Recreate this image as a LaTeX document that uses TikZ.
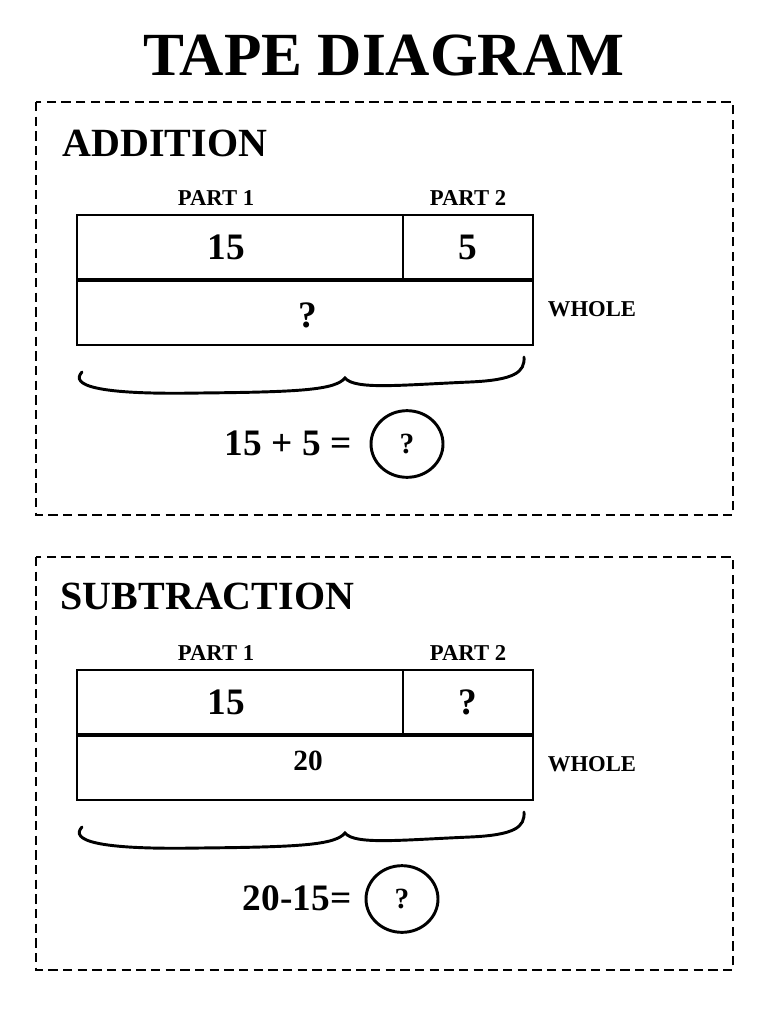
\documentclass[tikz,border=0pt]{standalone}
\usepackage{fontspec}
\setmainfont{Liberation Serif}
\usetikzlibrary{shapes.geometric}
\begin{document}
\begin{tikzpicture}[x=0.75pt,y=-0.75pt,
  frame/.style={draw,line width=1.6pt,dash pattern=on 7pt off 4pt},
  cell/.style={draw,line width=2.2pt},
  lbl/.style={font=\bfseries\fontsize{17}{20}\selectfont},
  num/.style={font=\bfseries\fontsize{28}{32}\selectfont},
  hd/.style={font=\bfseries\fontsize{30}{34}\selectfont,anchor=west},
  brace/.style={line width=2.2pt,line cap=round},
  ring/.style={draw,line width=2.2pt,ellipse,minimum width=54pt,minimum height=50pt,inner sep=0pt}]
\useasboundingbox (0,0) rectangle (768,1024);
\node[font=\bfseries\fontsize{46}{50}\selectfont] (title) at (384,55) {TAPE DIAGRAM};
\foreach \dy/\nm/\qa/\eq/\cx in {0/add/5/{15 + 5 =}/407, 455/sub/?/{20-15=}/402}{
  \draw[frame] (36,102+\dy) rectangle (733,515+\dy);
  \draw[cell] (77,215+\dy) rectangle (533,279+\dy);
  \draw[cell] (403,215+\dy) -- (403,279+\dy);
  \draw[cell] (77,281+\dy) rectangle (533,345+\dy);
  \node[lbl] (p1\nm) at (216,198+\dy) {PART 1};
  \node[lbl] (p2\nm) at (468,198+\dy) {PART 2};
  \node[num] (a\nm) at (226,247+\dy) {15};
  \node[num] (b\nm) at (468,247+\dy) {\qa};
  \node[lbl] (w\nm) at (592,309+\dy) {WHOLE};
  \draw[brace] (82,372+\dy) .. controls (70,385+\dy) and (95,395+\dy) .. (200,393+\dy)
     .. controls (300,392+\dy) and (335,390+\dy) .. (345,378+\dy)
     .. controls (355,390+\dy) and (400,385+\dy) .. (470,382+\dy)
     .. controls (515,380+\dy) and (525,372+\dy) .. (524,357+\dy);
  \node[num,anchor=east] (eq\nm) at (356,443+\dy) {\eq};
  \node[ring] (c\nm) at (\cx,444+\dy) {};
  \node[font=\bfseries\fontsize{22}{26}\selectfont] at (c\nm) {?};
}
\node[num] (q1) at (308,315) {?};
\node[font=\bfseries\fontsize{22}{26}\selectfont] (q2) at (308,761) {20};
\node[hd] (h1) at (58,143) {ADDITION};
\node[hd] (h2) at (56,596) {SUBTRACTION};
\end{tikzpicture}
\end{document}
